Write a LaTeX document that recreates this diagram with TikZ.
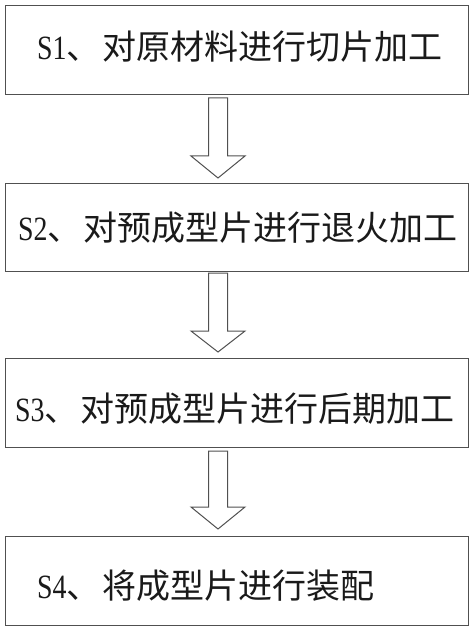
\documentclass[tikz,border=0pt]{standalone}
\usepackage{fontspec}
\setmainfont{Liberation Serif}
\newfontfamily\cjk{Noto Sans CJK SC}
\newfontfamily\lat[FakeStretch=0.82]{Liberation Serif}
\definecolor{linegray}{HTML}{505050}
\definecolor{textgray}{HTML}{1A1A1A}
\newcommand\blockarr[4]{%
  \draw[arr] (208.5,#2) -- (227.5,#2) -- (227.5,#3) -- (245,#3) -- (218,#4) -- (191,#3) -- (208.5,#3) -- cycle
  coordinate (#1) at (218,#4);}
\begin{document}
\begin{tikzpicture}[x=1pt,y=-1pt,
  box/.style={draw=linegray, line width=1.3pt, anchor=north west, inner sep=0pt,
              minimum width=463pt, minimum height=89pt},
  lbl/.style={anchor=base west, inner sep=0pt, text=textgray,
              font=\fontsize{34}{40}\selectfont},
  arr/.style={draw=linegray, line width=1pt, line join=miter}]
\useasboundingbox (0,0) rectangle (474,631);
\fill[white] (0,0) rectangle (474,631);
\node[box] (b1) at (5,5) {};
\node[box, minimum height=88pt] (b2) at (5,183) {};
\node[box] (b3) at (5,358) {};
\node[box] (b4) at (5,536) {};
\node[lbl] (t1) at (37,60) {\lat S1\cjk 、\kern2pt 对原材料进行切片加工};
\node[lbl] (t2) at (18,240) {\lat S2\cjk 、\kern2pt 对预成型片进行退火加工};
\node[lbl] (t3) at (15,421) {\lat S3\cjk 、\kern2pt 对预成型片进行后期加工};
\node[lbl] (t4) at (37,598) {\lat S4\cjk 、\kern2pt 将成型片进行装配};
\blockarr{a1}{98}{156}{178}
\blockarr{a2}{273}{331}{352}
\blockarr{a3}{451}{507}{529}
\end{tikzpicture}
\end{document}
